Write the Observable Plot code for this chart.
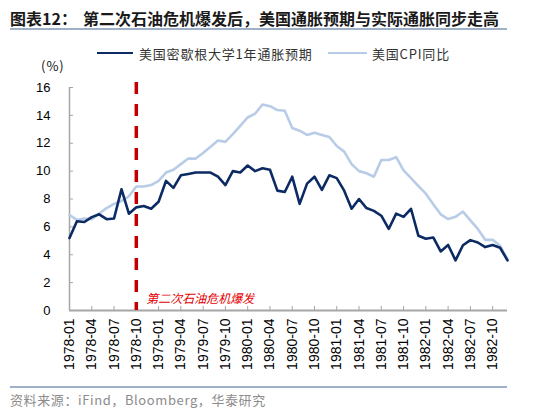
<!DOCTYPE html>
<html><head><meta charset="utf-8">
<script src="https://cdn.jsdelivr.net/npm/d3@7"></script>
<script src="https://cdn.jsdelivr.net/npm/@observablehq/plot@0.6"></script>
<style>
body{margin:0;background:#fff;}
#wrap{position:relative;width:543px;height:413px;overflow:hidden;font-family:"Noto Sans CJK SC",sans-serif;background:#fff;}
.abs{position:absolute;white-space:pre;line-height:1;}
#chart{position:absolute;left:0;top:0;width:543px;height:413px;}
</style></head>
<body><div id="wrap">
<div id="chart"></div>
<div class="abs" style="left:10px;top:10px;font-size:16px;font-weight:700;color:#1a1a1a;">图表12：<span style="margin-left:6px">第二次石油危机爆发后，美国通胀预期与实际通胀同步走高</span></div>
<div class="abs" style="left:10px;top:28px;width:497px;height:1.5px;background:#9fb0c9;"></div>
<div class="abs" style="left:97px;top:51.8px;width:36px;height:2.6px;background:#0c2a63;"></div>
<div class="abs" style="left:139px;top:46.5px;font-size:13px;letter-spacing:0.8px;color:#333;">美国密歇根大学1年通胀预期</div>
<div class="abs" style="left:328px;top:51.8px;width:39px;height:2.6px;background:#b8cce8;"></div>
<div class="abs" style="left:372px;top:46.5px;font-size:13px;letter-spacing:0.8px;color:#333;">美国CPI同比</div>
<div class="abs" style="left:41px;top:59px;font-size:13px;letter-spacing:1px;color:#111;">(%)</div>
<div class="abs" style="left:10px;top:386px;width:497px;height:2px;background:#9fb0c9;"></div>
<div class="abs" style="left:10px;top:392.5px;font-size:13px;letter-spacing:0.6px;color:#8c8c8c;">资料来源：iFind，Bloomberg，华泰研究</div>
</div>
<script>
// Month categories 1978-01 .. 1982-12
const months = [];
for (let y = 1978; y <= 1982; y++) for (let m = 1; m <= 12; m++) months.push(`${y}-${String(m).padStart(2, "0")}`);

// University of Michigan 1-year inflation expectations (%)
const expectation = [
  5.2, 6.4, 6.35, 6.7, 6.9, 6.55, 6.6, 8.7, 6.95, 7.4,
  7.5, 7.3, 7.8, 9.3, 8.8, 9.7, 9.8, 9.9, 9.9, 9.9,
  9.6, 9.0, 10.0, 9.9, 10.4, 10.0, 10.2, 10.1, 8.6, 8.5,
  9.6, 7.65, 9.1, 9.6, 8.65, 9.7, 9.5, 8.6, 7.3, 8.0,
  7.35, 7.15, 6.8, 5.85, 6.95, 6.72, 7.3, 5.36, 5.15, 5.24,
  4.24, 4.7, 3.6, 4.68, 5.05, 4.88, 4.55, 4.7, 4.5, 3.6
];
// US CPI YoY (%)
const cpi = [
  6.85, 6.5, 6.6, 6.55, 6.95, 7.35, 7.65, 7.85, 8.2, 8.9,
  8.9, 9.0, 9.3, 9.9, 10.1, 10.5, 10.9, 10.9, 11.3, 11.75,
  12.2, 12.1, 12.65, 13.25, 13.85, 14.12, 14.78, 14.66, 14.38, 14.33,
  13.1, 12.9, 12.6, 12.75, 12.6, 12.45, 11.8, 11.4, 10.5, 10.0,
  9.85, 9.6, 10.8, 10.8, 11.0, 10.05, 9.5, 8.93, 8.38, 7.62,
  6.9, 6.56, 6.72, 7.1, 6.47, 5.85, 5.07, 5.08, 4.64, 3.68
];
const xTicks = months.filter((d, i) => i % 3 === 0);
const yTicks = [0, 2, 4, 6, 8, 10, 12, 14, 16];
const crisisMonth = "1978-10";
const crisisLabel = "第二次石油危机爆发";

const rows = months.map((m, i) => ({month: m, exp: expectation[i], cpi: cpi[i]}));

const axisGray = "#a6a6a6";
const chart = Plot.plot({
  width: 543,
  height: 413,
  marginTop: 87,
  marginBottom: 103,
  marginLeft: 69,
  marginRight: 36,
  style: {fontFamily: "'Liberation Sans', Arial, sans-serif", fontSize: "13px", color: "#000", background: "transparent", overflow: "visible"},
  x: {type: "point", domain: months, padding: 0, round: false},
  y: {domain: [0, 16]},
  marks: [
    Plot.ruleY([0], {stroke: axisGray, strokeWidth: 2}),
    Plot.ruleX([months[0]], {y1: 0, y2: 16, stroke: axisGray, strokeWidth: 1.5}),
    Plot.axisY({ticks: yTicks, tickSize: 4, dx: 4, fill: "none", stroke: axisGray, label: null}),
    Plot.axisY({ticks: yTicks, tickSize: 0, tickPadding: 19, fontSize: 13, fill: "#000", label: null}),
    Plot.axisX({ticks: xTicks, tickSize: 4, dy: -4, fill: "none", stroke: axisGray, label: null}),
    Plot.axisX({ticks: xTicks, tickSize: 0, tickRotate: -90, tickPadding: 8, fontSize: 14, fill: "#000", label: null}),
    Plot.line(rows, {x: "month", y: "cpi", stroke: "#b8cce8", strokeWidth: 2.6}),
    Plot.line(rows, {x: "month", y: "exp", stroke: "#0c2a63", strokeWidth: 2.6}),
    Plot.ruleX([crisisMonth], {y1: 0, y2: 16.4, stroke: "#c00000", strokeWidth: 3.5, strokeDasharray: "12,10", strokeDashoffset: 4}),
    Plot.text([crisisMonth], {x: d => d, y: 0.83, text: () => crisisLabel, textAnchor: "start", dx: 10, fill: "#e60000", fontSize: 12, fontStyle: "italic", fontFamily: "'Noto Sans CJK SC', sans-serif"})
  ]
});
document.getElementById("chart").appendChild(chart);
</script>
</body></html>
